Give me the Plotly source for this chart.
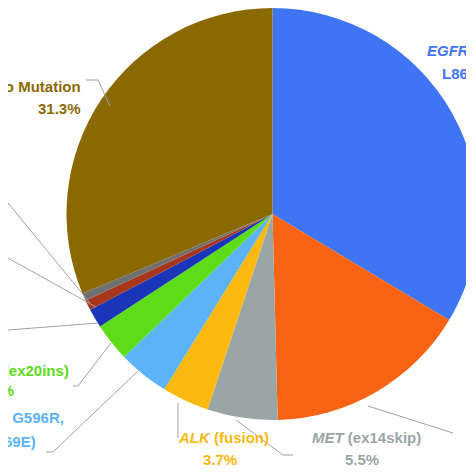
import plotly.graph_objects as go

labels = ["EGFR (L858R)", "KRAS", "MET (ex14skip)", "ALK (fusion)", "BRAF", "EGFR (ex20ins)", "ERBB2", "ROS1", "RET", "No Mutation"]
values = [33.6, 16.0, 5.5, 3.7, 4.0, 3.0, 1.5, 0.8, 0.6, 31.3]
colors = ["#3f75f5", "#f96414", "#9aa5a6", "#fbb80f", "#5cb3f7", "#5ddc17", "#1a36b8", "#a8361a", "#707070", "#8a6a00"]

W = H = 474
def px(x): return x / W
def py(y): return 1 - y / H

fig = go.Figure(go.Pie(labels=labels, values=values, sort=False, direction="clockwise", rotation=0,
                       marker=dict(colors=colors), textinfo="none", hoverinfo="label+percent",
                       domain=dict(x=[px(55), px(474)], y=[py(412), py(0)])))

F = "Arial, Liberation Sans, sans-serif"
def ann(x, y, text, color, anchor="center", size=15):
    fig.add_annotation(x=px(x), y=py(y), xref="paper", yref="paper", text=text, showarrow=False,
                       xanchor=anchor, font=dict(family=F, size=size, color=color))

ann(75, 68, "<b>No Mutation</b>", "#8a6a00", "right")
ann(75, 90, "<b>31.3%</b>", "#8a6a00", "right")
ann(417, 32, "<b><i>EGFR</i> (L858R,</b>", "#3f75f5", "left")
ann(432, 55, "<b>L861Q)</b>", "#3f75f5", "left")
ann(63, 373, "<b><i>EGFR</i> (ex20ins)</b>", "#5ddc17", "right")
ann(8, 393, "<b>3.0%</b>", "#5ddc17", "right")
ann(58, 420, "<b><i>BRAF</i> (V600E, G596R,</b>", "#5cb3f7", "right")
ann(30, 444, "<b>G469E)</b>", "#5cb3f7", "right")
ann(215, 440, "<b><i>ALK</i> (fusion)</b>", "#fbb80f")
ann(212, 462, "<b>3.7%</b>", "#fbb80f")
ann(358, 440, "<b><i>MET</i> (ex14skip)</b>", "#9aa5a6")
ann(354, 462, "<b>5.5%</b>", "#9aa5a6")

lines = [
    [(78, 72), (90, 72), (102, 98)],
    [(0, 195), (82, 295)],
    [(0, 250), (88, 299)],
    [(0, 322), (90, 315)],
    [(65, 378), (70, 378), (103, 335)],
    [(38, 444), (45, 444), (130, 363)],
    [(170, 430), (170, 395)],
    [(285, 447), (275, 447), (228, 412)],
    [(445, 425), (360, 398)],
]
for pts in lines:
    for (x0, y0), (x1, y1) in zip(pts[:-1], pts[1:]):
        fig.add_shape(type="line", xref="paper", yref="paper", x0=px(x0), y0=py(y0), x1=px(x1), y1=py(y1),
                      line=dict(color="#a0a0a0", width=1))

fig.update_layout(width=W, height=H, margin=dict(l=0, r=0, t=0, b=0), showlegend=False,
                  paper_bgcolor="white", plot_bgcolor="white")
fig.write_html("out.html")
